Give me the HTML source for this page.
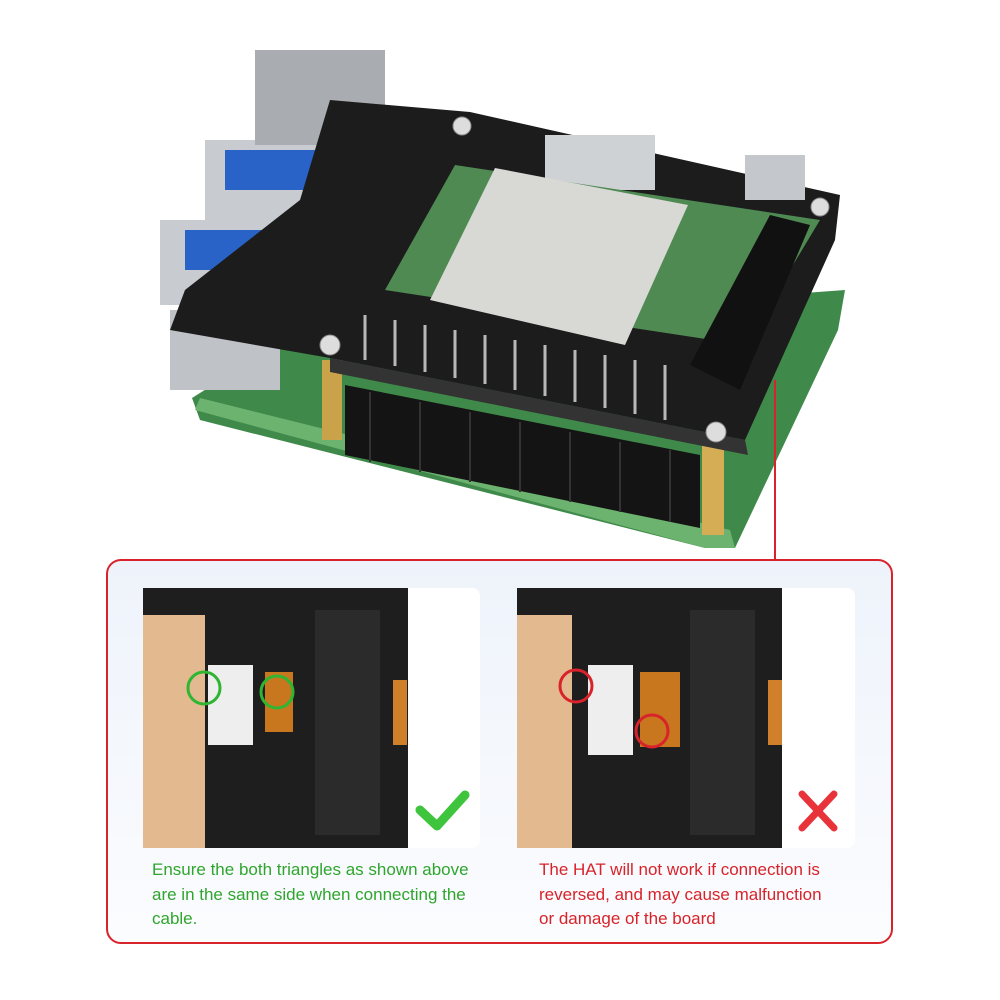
<!DOCTYPE html>
<html><head><meta charset="utf-8"><style>
html,body{margin:0;padding:0;background:#fff;width:1000px;height:1000px;overflow:hidden;font-family:"Liberation Sans",sans-serif}
.t{position:absolute;font-size:17px;line-height:24.5px}
</style></head><body>
<svg width="1000" height="1000" style="position:absolute;left:0;top:0">
<defs>
<linearGradient id="bg" x1="0" y1="0" x2="0" y2="1"><stop offset="0" stop-color="#eef3fb"/><stop offset="1" stop-color="#fbfcfe"/></linearGradient>
</defs>
<polygon points="192,398 300,330 845,290 838,330 735,548 705,548 200,420" fill="#3f8a4a"/>
<polygon points="195,410 705,548 735,548 730,530 200,398" fill="#6cb36f"/>
<polygon points="345,385 700,455 700,528 345,455" fill="#141414"/>
<g stroke="#333" stroke-width="2">
<line x1="370" y1="392" x2="370" y2="462"/><line x1="420" y1="402" x2="420" y2="472"/><line x1="470" y1="412" x2="470" y2="482"/><line x1="520" y1="422" x2="520" y2="492"/><line x1="570" y1="432" x2="570" y2="502"/><line x1="620" y1="442" x2="620" y2="512"/><line x1="670" y1="450" x2="670" y2="522"/>
</g>
<rect x="322" y="360" width="20" height="80" fill="#c9a24a"/>
<rect x="702" y="440" width="22" height="95" fill="#d4ad55"/>
<rect x="170" y="310" width="110" height="80" fill="#bfc3c7"/>
<rect x="160" y="220" width="130" height="85" fill="#c8ccd0"/>
<rect x="185" y="230" width="90" height="40" fill="#2a63c8"/>
<rect x="205" y="140" width="130" height="80" fill="#c8ccd0"/>
<rect x="225" y="150" width="90" height="40" fill="#2a63c8"/>
<rect x="255" y="50" width="130" height="95" fill="#a9adb1"/>
<polygon points="330,100 470,112 840,195 835,240 745,440 330,358 170,330 185,290 300,200" fill="#1c1c1c"/>
<polygon points="330,358 745,440 748,455 330,372" fill="#333"/>
<g stroke="#b8b8b8" stroke-width="3">
<line x1="365" y1="315" x2="365" y2="360"/><line x1="395" y1="320" x2="395" y2="366"/><line x1="425" y1="325" x2="425" y2="372"/><line x1="455" y1="330" x2="455" y2="378"/><line x1="485" y1="335" x2="485" y2="384"/><line x1="515" y1="340" x2="515" y2="390"/><line x1="545" y1="345" x2="545" y2="396"/><line x1="575" y1="350" x2="575" y2="402"/><line x1="605" y1="355" x2="605" y2="408"/><line x1="635" y1="360" x2="635" y2="414"/><line x1="665" y1="365" x2="665" y2="420"/>
</g>
<rect x="545" y="135" width="110" height="55" fill="#cfd2d5"/>
<rect x="745" y="155" width="60" height="45" fill="#c4c8cc"/>
<polygon points="385,290 455,165 820,220 745,345" fill="#4e8a52"/>
<polygon points="430,300 495,168 688,205 625,345" fill="#d8d8d4"/>
<polygon points="690,365 770,215 810,225 740,390" fill="#111"/>
<g fill="#ddd" stroke="#888"><circle cx="462" cy="126" r="9"/><circle cx="820" cy="207" r="9"/><circle cx="330" cy="345" r="10"/><circle cx="716" cy="432" r="10"/></g>
<line x1="775" y1="380" x2="775" y2="560" stroke="#d8232a" stroke-width="2"/>
<rect x="107" y="560" width="785" height="383" rx="14" fill="url(#bg)" stroke="#d8232a" stroke-width="2"/>
<rect x="143" y="588" width="337" height="260" rx="8" fill="#fff"/>
<rect x="517" y="588" width="338" height="260" rx="8" fill="#fff"/>
<rect x="143" y="588" width="265" height="260" fill="#1e1e1e"/>
<rect x="143" y="615" width="62" height="233" fill="#e3b98f"/>
<rect x="315" y="610" width="65" height="225" fill="#2b2b2b"/>
<rect x="208" y="665" width="45" height="80" fill="#eee"/>
<rect x="265" y="672" width="28" height="60" fill="#c9771e"/>
<rect x="393" y="680" width="14" height="65" fill="#d0802a"/>
<circle cx="204" cy="688" r="16" fill="none" stroke="#2fb532" stroke-width="3"/>
<circle cx="277" cy="692" r="16" fill="none" stroke="#2fb532" stroke-width="3"/>
<polyline points="420,810 437,826 465,795" fill="none" stroke="#3ec43d" stroke-width="9" stroke-linecap="round" stroke-linejoin="round"/>
<rect x="517" y="588" width="265" height="260" fill="#1e1e1e"/>
<rect x="517" y="615" width="55" height="233" fill="#e3b98f"/>
<rect x="690" y="610" width="65" height="225" fill="#2b2b2b"/>
<rect x="588" y="665" width="45" height="90" fill="#eee"/>
<rect x="640" y="672" width="40" height="75" fill="#c9771e"/>
<rect x="768" y="680" width="14" height="65" fill="#d0802a"/>
<circle cx="576" cy="686" r="16" fill="none" stroke="#d8232a" stroke-width="3"/>
<circle cx="652" cy="731" r="16" fill="none" stroke="#d8232a" stroke-width="3"/>
<g stroke="#e8333a" stroke-width="7" stroke-linecap="round"><line x1="802" y1="794" x2="834" y2="828"/><line x1="834" y1="794" x2="802" y2="828"/></g>
</svg>
<div class="t" style="left:152px;top:858px;color:#2fa52e">Ensure the both triangles as shown above<br>are in the same side when connecting the<br>cable.</div>
<div class="t" style="left:539px;top:858px;color:#d8232a">The HAT will not work if connection is<br>reversed, and may cause malfunction<br>or damage of the board</div>
</body></html>
